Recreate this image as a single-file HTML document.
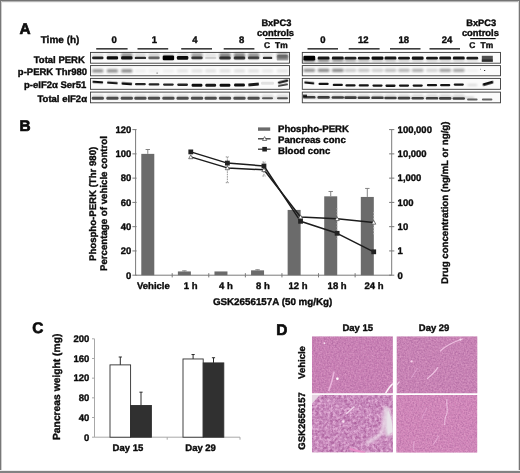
<!DOCTYPE html>
<html><head><meta charset="utf-8"><title>Figure</title>
<style>
html,body{margin:0;padding:0;background:#fff;}
body{width:520px;height:473px;overflow:hidden;}
svg{display:block;}
text{font-family:"Liberation Sans",sans-serif;font-weight:bold;fill:#0c0c0c;text-rendering:geometricPrecision;stroke:#0c0c0c;stroke-width:0.38px;stroke-linejoin:round;}
.t{font-size:9.5px;}
.pl{font-size:15.4px;stroke-width:0.7px;}
</style></head><body>
<svg width="520" height="473" viewBox="0 0 520 473">
<defs>
<filter id="b1" x="-20%" y="-100%" width="140%" height="300%"><feGaussianBlur stdDeviation="0.7 0.5"/></filter>
<filter id="b2" x="-20%" y="-100%" width="140%" height="300%"><feGaussianBlur stdDeviation="1.1 0.8"/></filter>
<filter id="soft" x="-5%" y="-5%" width="110%" height="110%"><feGaussianBlur stdDeviation="0.35"/></filter>
<filter id="nf" x="0" y="0" width="100%" height="100%" color-interpolation-filters="sRGB"><feTurbulence type="fractalNoise" baseFrequency="0.62" numOctaves="2" seed="3" result="n"/><feColorMatrix in="n" type="matrix" values="0 0 0 0 0.60  0 0 0 0 0.34  0 0 0 0 0.57  0.9 0 0 0 -0.27" result="d"/><feColorMatrix in="n" type="matrix" values="0 0 0 0 0.93  0 0 0 0 0.70  0 0 0 0 0.84  0 0.9 0 0 -0.29" result="l"/><feMerge result="m0"><feMergeNode in="d"/><feMergeNode in="l"/></feMerge><feGaussianBlur in="m0" stdDeviation="0.45" result="m"/><feComposite operator="in" in="m" in2="SourceGraphic"/></filter>
<filter id="nm" x="0" y="0" width="100%" height="100%" color-interpolation-filters="sRGB"><feTurbulence type="fractalNoise" baseFrequency="0.36" numOctaves="3" seed="8" result="n"/><feColorMatrix in="n" type="matrix" values="0 0 0 0 0.64  0 0 0 0 0.33  0 0 0 0 0.58  1.8 0 0 0 -0.64" result="d"/><feColorMatrix in="n" type="matrix" values="0 0 0 0 0.95  0 0 0 0 0.78  0 0 0 0 0.91  0 1.8 0 0 -0.70" result="l"/><feMerge result="m0"><feMergeNode in="d"/><feMergeNode in="l"/></feMerge><feGaussianBlur in="m0" stdDeviation="0.55" result="m"/><feComposite operator="in" in="m" in2="SourceGraphic"/></filter>
<filter id="sb" x="-30%" y="-30%" width="160%" height="160%"><feGaussianBlur stdDeviation="0.6"/></filter>
<filter id="sb2" x="-30%" y="-30%" width="160%" height="160%"><feGaussianBlur stdDeviation="1.4"/></filter>
</defs>
<rect x="0" y="0" width="520" height="473" fill="#fff"/>

<g id="frame">
<rect x="0" y="0" width="520" height="1" fill="#747474"/><rect x="0" y="1" width="520" height="1" fill="#b4b4b4"/><rect x="0" y="2" width="520" height="1" fill="#f1f1f1"/>
<rect x="0" y="0" width="1" height="473" fill="#787878"/><rect x="1" y="1" width="1" height="473" fill="#cfcfcf"/>
<rect x="519" y="0" width="1" height="473" fill="#767676"/><rect x="518" y="1" width="1" height="473" fill="#dadada"/>
<rect x="0" y="471" width="520" height="2" fill="#828282"/><rect x="0" y="470" width="520" height="1" fill="#ececec"/>
</g>
<g id="panelA">
<text class="pl" x="19.5" y="34.2" text-anchor="start" >A</text>
<text class="t" x="40.7" y="43" text-anchor="start" style="font-size:10px">Time (h)</text>
<text class="t" x="84.8" y="62.6" text-anchor="end" >Total PERK</text>
<text class="t" x="87" y="74.6" text-anchor="end" >p-PERK Thr980</text>
<text class="t" x="86.4" y="88" text-anchor="end" >p-eIF2α Ser51</text>
<text class="t" x="87" y="102" text-anchor="end" >Total eIF2α</text>
<text class="t" x="114.2" y="43.1" text-anchor="middle" >0</text>
<rect x="96.2" y="48.2" width="31.4" height="1.3" fill="#111"/>
<text class="t" x="154.5" y="43.1" text-anchor="middle" >1</text>
<rect x="137.5" y="48.2" width="30.7" height="1.3" fill="#111"/>
<text class="t" x="195" y="43.1" text-anchor="middle" >4</text>
<rect x="181.2" y="48.2" width="30.8" height="1.3" fill="#111"/>
<text class="t" x="241.6" y="43.1" text-anchor="middle" >8</text>
<rect x="223.7" y="48.2" width="30.7" height="1.3" fill="#111"/>
<text class="t" x="323" y="43.1" text-anchor="middle" >0</text>
<rect x="307.5" y="48.2" width="30.5" height="1.3" fill="#111"/>
<text class="t" x="363.2" y="43.1" text-anchor="middle" >12</text>
<rect x="348.7" y="48.2" width="30.9" height="1.3" fill="#111"/>
<text class="t" x="403.7" y="43.1" text-anchor="middle" >18</text>
<rect x="390" y="48.2" width="30.5" height="1.3" fill="#111"/>
<text class="t" x="447" y="43.1" text-anchor="middle" >24</text>
<rect x="429.5" y="48.2" width="30.5" height="1.3" fill="#111"/>
<text class="t" x="276.40000000000003" y="26.2" text-anchor="middle" style="font-size:9.3px">BxPC3</text>
<text class="t" x="275.6" y="35.7" text-anchor="middle" style="font-size:9.4px">controls</text>
<rect x="265.2" y="38" width="25.4" height="1.2" fill="#111"/>
<text class="t" x="267.1" y="47.8" text-anchor="middle" style="font-size:8.4px">C</text>
<text class="t" x="281.4" y="47.8" text-anchor="middle" style="font-size:8.4px">Tm</text>
<text class="t" x="481.2" y="26.2" text-anchor="middle" style="font-size:9.3px">BxPC3</text>
<text class="t" x="480.4" y="35.7" text-anchor="middle" style="font-size:9.4px">controls</text>
<rect x="470.2" y="38" width="25.4" height="1.2" fill="#111"/>
<text class="t" x="472.2" y="47.8" text-anchor="middle" style="font-size:8.4px">C</text>
<text class="t" x="486.8" y="47.8" text-anchor="middle" style="font-size:8.4px">Tm</text>
<rect x="90.5" y="52.4" width="199.0" height="10.8" fill="#fbfbfb" stroke="#3a3a3a" stroke-width="0.9"/>
<rect x="90.5" y="65.6" width="199.0" height="10.2" fill="#fbfbfb" stroke="#3a3a3a" stroke-width="0.9"/>
<rect x="90.5" y="78.4" width="199.0" height="10.9" fill="#fbfbfb" stroke="#3a3a3a" stroke-width="0.9"/>
<rect x="90.5" y="92.1" width="199.0" height="10.7" fill="#fbfbfb" stroke="#3a3a3a" stroke-width="0.9"/>
<rect x="302.3" y="52.4" width="198.2" height="10.8" fill="#fbfbfb" stroke="#3a3a3a" stroke-width="0.9"/>
<rect x="302.3" y="65.6" width="198.2" height="10.2" fill="#fbfbfb" stroke="#3a3a3a" stroke-width="0.9"/>
<rect x="302.3" y="78.4" width="198.2" height="10.9" fill="#fbfbfb" stroke="#3a3a3a" stroke-width="0.9"/>
<rect x="302.3" y="92.1" width="198.2" height="10.7" fill="#fbfbfb" stroke="#3a3a3a" stroke-width="0.9"/>
<g id="bandsL">
<rect x="92.2" y="53.0" width="11.2" height="6.0" rx="1.2" fill="#000" fill-opacity="0.08" filter="url(#b2)"/>
<rect x="92.1" y="56.6" width="11.4" height="2.6" rx="1.2" fill="#000" fill-opacity="0.85" filter="url(#b1)"/>
<rect x="106.8" y="53.0" width="11.2" height="6.0" rx="1.2" fill="#000" fill-opacity="0.1" filter="url(#b2)"/>
<rect x="106.7" y="56.2" width="11.4" height="3.3" rx="1.2" fill="#000" fill-opacity="0.95" filter="url(#b1)"/>
<rect x="121.2" y="53.0" width="11.2" height="6.0" rx="1.2" fill="#000" fill-opacity="0.38" filter="url(#b2)"/>
<rect x="121.1" y="56.3" width="11.4" height="3.2" rx="1.2" fill="#000" fill-opacity="0.9" filter="url(#b1)"/>
<rect x="134.8" y="53.0" width="11.2" height="6.0" rx="1.2" fill="#000" fill-opacity="0.12" filter="url(#b2)"/>
<rect x="134.7" y="56.7" width="11.4" height="2.4" rx="1.2" fill="#000" fill-opacity="0.8" filter="url(#b1)"/>
<rect x="148.4" y="53.0" width="11.2" height="6.0" rx="1.2" fill="#000" fill-opacity="0.15" filter="url(#b2)"/>
<rect x="148.3" y="56.6" width="11.4" height="2.6" rx="1.2" fill="#000" fill-opacity="0.55" filter="url(#b1)"/>
<rect x="162.8" y="54.0" width="11.2" height="6.0" rx="1.2" fill="#000" fill-opacity="0.2" filter="url(#b2)"/>
<rect x="162.7" y="55.5" width="11.4" height="4.8" rx="1.2" fill="#000" fill-opacity="1" filter="url(#b1)"/>
<rect x="177.0" y="53.0" width="11.2" height="6.0" rx="1.2" fill="#000" fill-opacity="0.12" filter="url(#b2)"/>
<rect x="176.9" y="56.0" width="11.4" height="3.8" rx="1.2" fill="#000" fill-opacity="0.95" filter="url(#b1)"/>
<rect x="191.4" y="53.0" width="11.2" height="6.0" rx="1.2" fill="#000" fill-opacity="0.34" filter="url(#b2)"/>
<rect x="191.3" y="56.5" width="11.4" height="2.8" rx="1.2" fill="#000" fill-opacity="0.7" filter="url(#b1)"/>
<rect x="205.1" y="53.0" width="11.2" height="6.0" rx="1.2" fill="#000" fill-opacity="0.08" filter="url(#b2)"/>
<rect x="205.0" y="56.9" width="11.4" height="2.0" rx="1.0" fill="#000" fill-opacity="0.13" filter="url(#b1)"/>
<rect x="219.4" y="53.0" width="11.2" height="6.0" rx="1.2" fill="#000" fill-opacity="0.46" filter="url(#b2)"/>
<rect x="219.3" y="56.4" width="11.4" height="3.0" rx="1.2" fill="#000" fill-opacity="0.7" filter="url(#b1)"/>
<rect x="233.9" y="53.0" width="11.2" height="6.0" rx="1.2" fill="#000" fill-opacity="0.46" filter="url(#b2)"/>
<rect x="233.8" y="56.4" width="11.4" height="3.0" rx="1.2" fill="#000" fill-opacity="0.7" filter="url(#b1)"/>
<rect x="248.0" y="53.0" width="11.2" height="6.0" rx="1.2" fill="#000" fill-opacity="0.4" filter="url(#b2)"/>
<rect x="247.9" y="56.5" width="11.4" height="2.8" rx="1.2" fill="#000" fill-opacity="0.62" filter="url(#b1)"/>
<rect x="261.9" y="53.0" width="11.2" height="6.0" rx="1.2" fill="#000" fill-opacity="0.08" filter="url(#b2)"/>
<rect x="262.8" y="56.7" width="9.5" height="2.4" rx="1.2" fill="#000" fill-opacity="0.8" filter="url(#b1)"/>
<rect x="276.9" y="53.0" width="11.2" height="6.0" rx="1.2" fill="#000" fill-opacity="0.4" filter="url(#b2)"/>
<rect x="276.8" y="55.1" width="11.4" height="5.5" rx="1.2" fill="#000" fill-opacity="0.3" filter="url(#b1)"/>
<rect x="92.3" y="69.2" width="11.0" height="3.4" rx="1.2" fill="#000" fill-opacity="0.44" filter="url(#b2)"/>
<rect x="106.9" y="69.2" width="11.0" height="3.4" rx="1.2" fill="#000" fill-opacity="0.44" filter="url(#b2)"/>
<rect x="121.3" y="69.2" width="11.0" height="3.4" rx="1.2" fill="#000" fill-opacity="0.46" filter="url(#b2)"/>
<rect x="134.9" y="69.2" width="11.0" height="3.4" rx="1.2" fill="#000" fill-opacity="0.05" filter="url(#b2)"/>
<rect x="148.5" y="69.2" width="11.0" height="3.4" rx="1.2" fill="#000" fill-opacity="0.05" filter="url(#b2)"/>
<rect x="162.9" y="69.2" width="11.0" height="3.4" rx="1.2" fill="#000" fill-opacity="0.05" filter="url(#b2)"/>
<rect x="177.1" y="69.2" width="11.0" height="3.4" rx="1.2" fill="#000" fill-opacity="0.09" filter="url(#b2)"/>
<rect x="191.5" y="69.2" width="11.0" height="3.4" rx="1.2" fill="#000" fill-opacity="0.1" filter="url(#b2)"/>
<rect x="205.2" y="69.2" width="11.0" height="3.4" rx="1.2" fill="#000" fill-opacity="0.1" filter="url(#b2)"/>
<rect x="219.5" y="69.2" width="11.0" height="3.4" rx="1.2" fill="#000" fill-opacity="0.11" filter="url(#b2)"/>
<rect x="234.0" y="69.2" width="11.0" height="3.4" rx="1.2" fill="#000" fill-opacity="0.11" filter="url(#b2)"/>
<rect x="248.1" y="69.2" width="11.0" height="3.4" rx="1.2" fill="#000" fill-opacity="0.1" filter="url(#b2)"/>
<rect x="262.0" y="69.2" width="11.0" height="3.4" rx="1.2" fill="#000" fill-opacity="0.08" filter="url(#b2)"/>
<rect x="277.0" y="69.2" width="11.0" height="3.4" rx="1.2" fill="#000" fill-opacity="0.09" filter="url(#b2)"/>
<rect x="156.6" y="72.6" width="1" height="1" fill="#444"/>
<rect x="92.4" y="81.0" width="10.8" height="2.3" rx="1.1" fill="#000" fill-opacity="0.95" filter="url(#b1)" transform="rotate(4 97.8 82.2)"/>
<rect x="107.0" y="81.8" width="10.8" height="2.3" rx="1.1" fill="#000" fill-opacity="0.9" filter="url(#b1)" transform="rotate(4 112.4 83)"/>
<rect x="121.4" y="82.6" width="10.8" height="2.3" rx="1.1" fill="#000" fill-opacity="0.95" filter="url(#b1)" transform="rotate(4 126.8 83.8)"/>
<rect x="135.0" y="83.0" width="10.8" height="2.3" rx="1.1" fill="#000" fill-opacity="0.85" filter="url(#b1)"/>
<rect x="148.6" y="83.2" width="10.8" height="2.3" rx="1.1" fill="#000" fill-opacity="0.85" filter="url(#b1)"/>
<rect x="163.0" y="83.4" width="10.8" height="2.3" rx="1.1" fill="#000" fill-opacity="0.85" filter="url(#b1)"/>
<rect x="177.2" y="83.6" width="10.8" height="2.3" rx="1.1" fill="#000" fill-opacity="0.85" filter="url(#b1)"/>
<rect x="191.6" y="83.8" width="10.8" height="3.0" rx="1.2" fill="#000" fill-opacity="0.95" filter="url(#b1)"/>
<rect x="205.3" y="83.7" width="10.8" height="3.0" rx="1.2" fill="#000" fill-opacity="0.9" filter="url(#b1)"/>
<rect x="219.6" y="83.7" width="10.8" height="3.0" rx="1.2" fill="#000" fill-opacity="0.95" filter="url(#b1)"/>
<rect x="234.1" y="83.5" width="10.8" height="3.0" rx="1.2" fill="#000" fill-opacity="0.95" filter="url(#b1)"/>
<rect x="248.2" y="82.9" width="10.8" height="3.0" rx="1.2" fill="#000" fill-opacity="0.9" filter="url(#b1)" transform="rotate(-5 253.6 84.4)"/>
<rect x="261.0" y="81.7" width="13.0" height="3.0" rx="1.2" fill="#000" fill-opacity="0.1" filter="url(#b1)"/>
<rect x="277.8" y="80.4" width="10.5" height="2.4" rx="1.2" fill="#000" fill-opacity="0.95" filter="url(#b1)" transform="rotate(-14 283 81.6)"/>
<rect x="278.0" y="84.3" width="10.0" height="1.8" rx="0.9" fill="#000" fill-opacity="0.8" filter="url(#b1)" transform="rotate(-10 283 85.2)"/>
<rect x="91.7" y="96.7" width="12.2" height="3.0" rx="1.2" fill="#000" fill-opacity="0.66" filter="url(#b1)"/>
<rect x="92.0" y="94.6" width="11.5" height="3.6" rx="1.2" fill="#000" fill-opacity="0.1" filter="url(#b2)"/>
<rect x="106.3" y="96.7" width="12.2" height="3.0" rx="1.2" fill="#000" fill-opacity="0.66" filter="url(#b1)"/>
<rect x="106.7" y="94.6" width="11.5" height="3.6" rx="1.2" fill="#000" fill-opacity="0.1" filter="url(#b2)"/>
<rect x="120.7" y="96.7" width="12.2" height="3.0" rx="1.2" fill="#000" fill-opacity="0.66" filter="url(#b1)"/>
<rect x="121.0" y="94.6" width="11.5" height="3.6" rx="1.2" fill="#000" fill-opacity="0.1" filter="url(#b2)"/>
<rect x="134.3" y="96.7" width="12.2" height="3.0" rx="1.2" fill="#000" fill-opacity="0.66" filter="url(#b1)"/>
<rect x="134.7" y="94.6" width="11.5" height="3.6" rx="1.2" fill="#000" fill-opacity="0.1" filter="url(#b2)"/>
<rect x="147.9" y="96.7" width="12.2" height="3.0" rx="1.2" fill="#000" fill-opacity="0.66" filter="url(#b1)"/>
<rect x="148.2" y="94.6" width="11.5" height="3.6" rx="1.2" fill="#000" fill-opacity="0.1" filter="url(#b2)"/>
<rect x="162.3" y="96.7" width="12.2" height="3.0" rx="1.2" fill="#000" fill-opacity="0.66" filter="url(#b1)"/>
<rect x="162.7" y="94.6" width="11.5" height="3.6" rx="1.2" fill="#000" fill-opacity="0.1" filter="url(#b2)"/>
<rect x="176.5" y="96.7" width="12.2" height="3.0" rx="1.2" fill="#000" fill-opacity="0.66" filter="url(#b1)"/>
<rect x="176.8" y="94.6" width="11.5" height="3.6" rx="1.2" fill="#000" fill-opacity="0.1" filter="url(#b2)"/>
<rect x="190.9" y="96.7" width="12.2" height="3.0" rx="1.2" fill="#000" fill-opacity="0.66" filter="url(#b1)"/>
<rect x="191.2" y="94.6" width="11.5" height="3.6" rx="1.2" fill="#000" fill-opacity="0.1" filter="url(#b2)"/>
<rect x="204.6" y="96.7" width="12.2" height="3.0" rx="1.2" fill="#000" fill-opacity="0.66" filter="url(#b1)"/>
<rect x="204.9" y="94.6" width="11.5" height="3.6" rx="1.2" fill="#000" fill-opacity="0.1" filter="url(#b2)"/>
<rect x="218.9" y="96.7" width="12.2" height="3.0" rx="1.2" fill="#000" fill-opacity="0.66" filter="url(#b1)"/>
<rect x="219.2" y="94.6" width="11.5" height="3.6" rx="1.2" fill="#000" fill-opacity="0.1" filter="url(#b2)"/>
<rect x="233.4" y="96.7" width="12.2" height="3.0" rx="1.2" fill="#000" fill-opacity="0.66" filter="url(#b1)"/>
<rect x="233.8" y="94.6" width="11.5" height="3.6" rx="1.2" fill="#000" fill-opacity="0.1" filter="url(#b2)"/>
<rect x="247.5" y="96.7" width="12.2" height="3.0" rx="1.2" fill="#000" fill-opacity="0.66" filter="url(#b1)"/>
<rect x="247.8" y="94.6" width="11.5" height="3.6" rx="1.2" fill="#000" fill-opacity="0.1" filter="url(#b2)"/>
<rect x="262.0" y="97.2" width="11.0" height="2.0" rx="1.0" fill="#000" fill-opacity="0.62" filter="url(#b1)"/>
<rect x="261.8" y="94.6" width="11.5" height="3.6" rx="1.2" fill="#000" fill-opacity="0.1" filter="url(#b2)"/>
<rect x="277.0" y="97.2" width="11.0" height="2.0" rx="1.0" fill="#000" fill-opacity="0.62" filter="url(#b1)"/>
<rect x="276.8" y="94.6" width="11.5" height="3.6" rx="1.2" fill="#000" fill-opacity="0.1" filter="url(#b2)"/>
<rect x="92" y="97.2" width="196" height="2" fill="#000" fill-opacity=".12" filter="url(#b2)"/>
</g>
<g id="bandsR">
<rect x="303.5" y="58.7" width="11.6" height="3.0" rx="1.2" fill="#000" fill-opacity="0.5700000000000001" filter="url(#b2)"/>
<rect x="303.4" y="55.8" width="11.8" height="4.6" rx="1.2" fill="#000" fill-opacity="1" filter="url(#b1)"/>
<rect x="317.8" y="58.7" width="11.6" height="3.0" rx="1.2" fill="#000" fill-opacity="0.5" filter="url(#b2)"/>
<rect x="317.7" y="56.6" width="11.8" height="3.0" rx="1.2" fill="#000" fill-opacity="0.9" filter="url(#b1)"/>
<rect x="332.0" y="58.7" width="11.6" height="3.0" rx="1.2" fill="#000" fill-opacity="0.44" filter="url(#b2)"/>
<rect x="331.9" y="56.6" width="11.8" height="3.0" rx="1.2" fill="#000" fill-opacity="0.9" filter="url(#b1)"/>
<rect x="344.7" y="58.7" width="11.6" height="3.0" rx="1.2" fill="#000" fill-opacity="0.33999999999999997" filter="url(#b2)"/>
<rect x="344.6" y="56.8" width="11.8" height="2.6" rx="1.2" fill="#000" fill-opacity="0.85" filter="url(#b1)"/>
<rect x="358.0" y="58.7" width="11.6" height="3.0" rx="1.2" fill="#000" fill-opacity="0.28" filter="url(#b2)"/>
<rect x="357.9" y="56.7" width="11.8" height="2.8" rx="1.2" fill="#000" fill-opacity="0.9" filter="url(#b1)"/>
<rect x="371.7" y="58.7" width="11.6" height="3.0" rx="1.2" fill="#000" fill-opacity="0.24" filter="url(#b2)"/>
<rect x="371.6" y="56.4" width="11.8" height="3.4" rx="1.2" fill="#000" fill-opacity="0.95" filter="url(#b1)"/>
<rect x="384.7" y="58.7" width="11.6" height="3.0" rx="1.2" fill="#000" fill-opacity="0.24" filter="url(#b2)"/>
<rect x="384.6" y="56.6" width="11.8" height="3.0" rx="1.2" fill="#000" fill-opacity="0.9" filter="url(#b1)"/>
<rect x="398.2" y="58.7" width="11.6" height="3.0" rx="1.2" fill="#000" fill-opacity="0.18" filter="url(#b2)"/>
<rect x="398.1" y="56.7" width="11.8" height="2.8" rx="1.2" fill="#000" fill-opacity="0.9" filter="url(#b1)"/>
<rect x="411.9" y="58.7" width="11.6" height="3.0" rx="1.2" fill="#000" fill-opacity="0.18" filter="url(#b2)"/>
<rect x="411.8" y="56.5" width="11.8" height="3.2" rx="1.2" fill="#000" fill-opacity="0.92" filter="url(#b1)"/>
<rect x="426.2" y="58.7" width="11.6" height="3.0" rx="1.2" fill="#000" fill-opacity="0.16999999999999998" filter="url(#b2)"/>
<rect x="426.1" y="56.7" width="11.8" height="2.8" rx="1.2" fill="#000" fill-opacity="0.9" filter="url(#b1)"/>
<rect x="439.4" y="58.7" width="11.6" height="3.0" rx="1.2" fill="#000" fill-opacity="0.16999999999999998" filter="url(#b2)"/>
<rect x="439.3" y="56.6" width="11.8" height="3.0" rx="1.2" fill="#000" fill-opacity="0.9" filter="url(#b1)"/>
<rect x="453.0" y="58.7" width="11.6" height="3.0" rx="1.2" fill="#000" fill-opacity="0.16999999999999998" filter="url(#b2)"/>
<rect x="452.9" y="56.6" width="11.8" height="3.0" rx="1.2" fill="#000" fill-opacity="0.92" filter="url(#b1)"/>
<rect x="466.5" y="58.7" width="11.6" height="3.0" rx="1.2" fill="#000" fill-opacity="0.12" filter="url(#b2)"/>
<rect x="466.4" y="56.8" width="11.8" height="2.6" rx="1.2" fill="#000" fill-opacity="0.88" filter="url(#b1)"/>
<rect x="481.8" y="55.8" width="11" height="6" fill="#000" fill-opacity=".68" filter="url(#b1)"/>
<rect x="481.8" y="59.4" width="11" height="2.4" fill="#000" fill-opacity=".45" filter="url(#b1)"/>
<rect x="303.5" y="68.8" width="11.6" height="3.2" rx="1.2" fill="#000" fill-opacity="0.42" filter="url(#b2)"/>
<rect x="317.8" y="68.8" width="11.6" height="3.2" rx="1.2" fill="#000" fill-opacity="0.46" filter="url(#b2)"/>
<rect x="332.0" y="68.8" width="11.6" height="3.2" rx="1.2" fill="#000" fill-opacity="0.46" filter="url(#b2)"/>
<rect x="344.7" y="68.8" width="11.6" height="3.2" rx="1.2" fill="#000" fill-opacity="0.2" filter="url(#b2)"/>
<rect x="358.0" y="68.8" width="11.6" height="3.2" rx="1.2" fill="#000" fill-opacity="0.22" filter="url(#b2)"/>
<rect x="371.7" y="68.8" width="11.6" height="3.2" rx="1.2" fill="#000" fill-opacity="0.18" filter="url(#b2)"/>
<rect x="384.7" y="68.8" width="11.6" height="3.2" rx="1.2" fill="#000" fill-opacity="0.24" filter="url(#b2)"/>
<rect x="398.2" y="68.8" width="11.6" height="3.2" rx="1.2" fill="#000" fill-opacity="0.28" filter="url(#b2)"/>
<rect x="411.9" y="68.8" width="11.6" height="3.2" rx="1.2" fill="#000" fill-opacity="0.3" filter="url(#b2)"/>
<rect x="426.2" y="68.8" width="11.6" height="3.2" rx="1.2" fill="#000" fill-opacity="0.16" filter="url(#b2)"/>
<rect x="439.4" y="68.8" width="11.6" height="3.2" rx="1.2" fill="#000" fill-opacity="0.36" filter="url(#b2)"/>
<rect x="453.0" y="68.8" width="11.6" height="3.2" rx="1.2" fill="#000" fill-opacity="0.34" filter="url(#b2)"/>
<rect x="466.5" y="68.8" width="11.6" height="3.2" rx="1.2" fill="#000" fill-opacity="0.04" filter="url(#b2)"/>
<rect x="481.4" y="68.8" width="11.6" height="3.2" rx="1.2" fill="#000" fill-opacity="0" filter="url(#b2)"/>
<rect x="484" y="70" width="1.2" height="1" fill="#333"/><rect x="480" y="68.8" width="1" height="0.8" fill="#777"/>
<rect x="304.2" y="81.8" width="10.2" height="2.3" rx="1.1" fill="#000" fill-opacity="0.92" filter="url(#b1)" transform="rotate(6 309.3 83)"/>
<rect x="318.5" y="82.8" width="10.2" height="2.3" rx="1.1" fill="#000" fill-opacity="0.92" filter="url(#b1)"/>
<rect x="332.7" y="83.8" width="10.2" height="2.3" rx="1.1" fill="#000" fill-opacity="0.92" filter="url(#b1)"/>
<rect x="345.4" y="84.2" width="10.2" height="2.3" rx="1.1" fill="#000" fill-opacity="0.92" filter="url(#b1)"/>
<rect x="358.7" y="84.3" width="10.2" height="2.3" rx="1.1" fill="#000" fill-opacity="0.92" filter="url(#b1)"/>
<rect x="372.4" y="84.4" width="10.2" height="2.3" rx="1.1" fill="#000" fill-opacity="0.92" filter="url(#b1)"/>
<rect x="385.4" y="84.6" width="10.2" height="2.3" rx="1.1" fill="#000" fill-opacity="0.92" filter="url(#b1)"/>
<rect x="398.9" y="84.4" width="10.2" height="2.3" rx="1.1" fill="#000" fill-opacity="0.92" filter="url(#b1)"/>
<rect x="412.6" y="84.4" width="10.2" height="2.3" rx="1.1" fill="#000" fill-opacity="0.92" filter="url(#b1)"/>
<rect x="426.9" y="84.0" width="10.2" height="2.3" rx="1.1" fill="#000" fill-opacity="0.92" filter="url(#b1)"/>
<rect x="440.1" y="84.0" width="10.2" height="2.3" rx="1.1" fill="#000" fill-opacity="0.92" filter="url(#b1)"/>
<rect x="453.7" y="83.4" width="10.2" height="2.3" rx="1.1" fill="#000" fill-opacity="0.92" filter="url(#b1)"/>
<rect x="467.3" y="84.1" width="10.0" height="1.8" rx="0.9" fill="#000" fill-opacity="0.14" filter="url(#b2)"/>
<rect x="482.5" y="81.9" width="11.0" height="2.8" rx="1.2" fill="#000" fill-opacity="0.95" filter="url(#b1)" transform="rotate(-16 488 83.3)"/>
<rect x="303.1" y="96.0" width="12.4" height="2.6" rx="1.2" fill="#000" fill-opacity="0.72" filter="url(#b1)"/>
<rect x="303.8" y="94.1" width="11.0" height="3.0" rx="1.2" fill="#000" fill-opacity="0.1" filter="url(#b2)"/>
<rect x="317.4" y="96.1" width="12.4" height="2.6" rx="1.2" fill="#000" fill-opacity="0.72" filter="url(#b1)"/>
<rect x="318.1" y="94.1" width="11.0" height="3.0" rx="1.2" fill="#000" fill-opacity="0.1" filter="url(#b2)"/>
<rect x="331.6" y="96.2" width="12.4" height="2.6" rx="1.2" fill="#000" fill-opacity="0.72" filter="url(#b1)"/>
<rect x="332.3" y="94.1" width="11.0" height="3.0" rx="1.2" fill="#000" fill-opacity="0.1" filter="url(#b2)"/>
<rect x="344.3" y="96.3" width="12.4" height="2.6" rx="1.2" fill="#000" fill-opacity="0.72" filter="url(#b1)"/>
<rect x="345.0" y="94.1" width="11.0" height="3.0" rx="1.2" fill="#000" fill-opacity="0.1" filter="url(#b2)"/>
<rect x="357.6" y="96.4" width="12.4" height="2.6" rx="1.2" fill="#000" fill-opacity="0.72" filter="url(#b1)"/>
<rect x="358.3" y="94.1" width="11.0" height="3.0" rx="1.2" fill="#000" fill-opacity="0.1" filter="url(#b2)"/>
<rect x="371.3" y="96.5" width="12.4" height="2.6" rx="1.2" fill="#000" fill-opacity="0.72" filter="url(#b1)"/>
<rect x="372.0" y="94.1" width="11.0" height="3.0" rx="1.2" fill="#000" fill-opacity="0.1" filter="url(#b2)"/>
<rect x="384.3" y="96.7" width="12.4" height="2.6" rx="1.2" fill="#000" fill-opacity="0.72" filter="url(#b1)"/>
<rect x="385.0" y="94.1" width="11.0" height="3.0" rx="1.2" fill="#000" fill-opacity="0.1" filter="url(#b2)"/>
<rect x="397.8" y="96.8" width="12.4" height="2.6" rx="1.2" fill="#000" fill-opacity="0.72" filter="url(#b1)"/>
<rect x="398.5" y="94.1" width="11.0" height="3.0" rx="1.2" fill="#000" fill-opacity="0.1" filter="url(#b2)"/>
<rect x="411.5" y="96.9" width="12.4" height="2.6" rx="1.2" fill="#000" fill-opacity="0.72" filter="url(#b1)"/>
<rect x="412.2" y="94.1" width="11.0" height="3.0" rx="1.2" fill="#000" fill-opacity="0.1" filter="url(#b2)"/>
<rect x="425.8" y="97.0" width="12.4" height="2.6" rx="1.2" fill="#000" fill-opacity="0.72" filter="url(#b1)"/>
<rect x="426.5" y="94.1" width="11.0" height="3.0" rx="1.2" fill="#000" fill-opacity="0.1" filter="url(#b2)"/>
<rect x="439.0" y="97.1" width="12.4" height="2.6" rx="1.2" fill="#000" fill-opacity="0.72" filter="url(#b1)"/>
<rect x="439.7" y="94.1" width="11.0" height="3.0" rx="1.2" fill="#000" fill-opacity="0.1" filter="url(#b2)"/>
<rect x="452.6" y="97.2" width="12.4" height="2.6" rx="1.2" fill="#000" fill-opacity="0.72" filter="url(#b1)"/>
<rect x="453.3" y="94.1" width="11.0" height="3.0" rx="1.2" fill="#000" fill-opacity="0.1" filter="url(#b2)"/>
<rect x="467.1" y="98.6" width="10.5" height="1.8" rx="0.9" fill="#000" fill-opacity="0.6" filter="url(#b1)"/>
<rect x="481.9" y="98.6" width="10.5" height="1.8" rx="0.9" fill="#000" fill-opacity="0.6" filter="url(#b1)"/>
<rect x="303" y="94.6" width="4" height="2.6" fill="#000" fill-opacity=".8" filter="url(#b1)"/>
<rect x="304" y="96.8" width="170" height="1.8" fill="#000" fill-opacity=".2" filter="url(#b2)"/>
</g>
</g>
<g id="panelB">
<text class="pl" x="19.5" y="131.3" text-anchor="start" >B</text>
<line x1="135.6" y1="129.6" x2="135.6" y2="275.2" stroke="#7a7a7a" stroke-width="1"/>
<line x1="391.7" y1="129.6" x2="391.7" y2="275.2" stroke="#7a7a7a" stroke-width="1"/>
<line x1="135.6" y1="275.2" x2="391.7" y2="275.2" stroke="#7a7a7a" stroke-width="1"/>
<line x1="132.4" y1="275.20" x2="136.6" y2="275.20" stroke="#7a7a7a" stroke-width="1"/>
<text class="t" x="131.4" y="278.5" text-anchor="end" >0</text>
<line x1="389.09999999999997" y1="275.20" x2="394.3" y2="275.20" stroke="#7a7a7a" stroke-width="1"/>
<line x1="132.4" y1="250.93" x2="136.6" y2="250.93" stroke="#7a7a7a" stroke-width="1"/>
<text class="t" x="131.4" y="254.23" text-anchor="end" >20</text>
<line x1="389.09999999999997" y1="250.93" x2="394.3" y2="250.93" stroke="#7a7a7a" stroke-width="1"/>
<line x1="132.4" y1="226.67" x2="136.6" y2="226.67" stroke="#7a7a7a" stroke-width="1"/>
<text class="t" x="131.4" y="229.97" text-anchor="end" >40</text>
<line x1="389.09999999999997" y1="226.67" x2="394.3" y2="226.67" stroke="#7a7a7a" stroke-width="1"/>
<line x1="132.4" y1="202.40" x2="136.6" y2="202.40" stroke="#7a7a7a" stroke-width="1"/>
<text class="t" x="131.4" y="205.7" text-anchor="end" >60</text>
<line x1="389.09999999999997" y1="202.40" x2="394.3" y2="202.40" stroke="#7a7a7a" stroke-width="1"/>
<line x1="132.4" y1="178.13" x2="136.6" y2="178.13" stroke="#7a7a7a" stroke-width="1"/>
<text class="t" x="131.4" y="181.43" text-anchor="end" >80</text>
<line x1="389.09999999999997" y1="178.13" x2="394.3" y2="178.13" stroke="#7a7a7a" stroke-width="1"/>
<line x1="132.4" y1="153.87" x2="136.6" y2="153.87" stroke="#7a7a7a" stroke-width="1"/>
<text class="t" x="131.4" y="157.17" text-anchor="end" >100</text>
<line x1="389.09999999999997" y1="153.87" x2="394.3" y2="153.87" stroke="#7a7a7a" stroke-width="1"/>
<line x1="132.4" y1="129.60" x2="136.6" y2="129.60" stroke="#7a7a7a" stroke-width="1"/>
<text class="t" x="131.4" y="132.9" text-anchor="end" >120</text>
<line x1="389.09999999999997" y1="129.60" x2="394.3" y2="129.60" stroke="#7a7a7a" stroke-width="1"/>
<text class="t" x="397.6" y="132.9" text-anchor="start" >100,000</text>
<text class="t" x="397.6" y="157.17" text-anchor="start" >10,000</text>
<text class="t" x="397.6" y="181.43" text-anchor="start" >1,000</text>
<text class="t" x="397.6" y="205.7" text-anchor="start" >100</text>
<text class="t" x="397.6" y="229.97" text-anchor="start" >10</text>
<text class="t" x="397.6" y="254.23" text-anchor="start" >1</text>
<text class="t" x="397.6" y="278.5" text-anchor="start" >0</text>
<line x1="172.19" y1="273.2" x2="172.19" y2="277.4" stroke="#7a7a7a" stroke-width="1"/>
<line x1="208.77" y1="273.2" x2="208.77" y2="277.4" stroke="#7a7a7a" stroke-width="1"/>
<line x1="245.36" y1="273.2" x2="245.36" y2="277.4" stroke="#7a7a7a" stroke-width="1"/>
<line x1="281.94" y1="273.2" x2="281.94" y2="277.4" stroke="#7a7a7a" stroke-width="1"/>
<line x1="318.53" y1="273.2" x2="318.53" y2="277.4" stroke="#7a7a7a" stroke-width="1"/>
<line x1="355.11" y1="273.2" x2="355.11" y2="277.4" stroke="#7a7a7a" stroke-width="1"/>
<rect x="141.29" y="153.87" width="13" height="121.33" fill="#6b6b6b"/>
<path d="M147.79 153.87V149.50M145.59 149.50h4.4" stroke="#777" stroke-width="0.9" fill="none"/>
<text class="t" x="153.39" y="289.3" text-anchor="middle" >Vehicle</text>
<rect x="177.88" y="271.44" width="13" height="3.76" fill="#6b6b6b"/>
<path d="M184.38 271.44V270.83M182.18 270.83h4.4" stroke="#777" stroke-width="0.9" fill="none"/>
<text class="t" x="190.68" y="289.3" text-anchor="middle" >1 h</text>
<rect x="214.46" y="271.44" width="13" height="3.76" fill="#6b6b6b"/>
<text class="t" x="225.96" y="289.3" text-anchor="middle" >4 h</text>
<rect x="251.05" y="270.35" width="13" height="4.85" fill="#6b6b6b"/>
<path d="M257.55 270.35V269.74M255.35 269.74h4.4" stroke="#777" stroke-width="0.9" fill="none"/>
<text class="t" x="262.85" y="289.3" text-anchor="middle" >8 h</text>
<rect x="287.64" y="209.92" width="13" height="65.28" fill="#6b6b6b"/>
<text class="t" x="298.04" y="289.3" text-anchor="middle" >12 h</text>
<rect x="324.22" y="196.33" width="13" height="78.87" fill="#6b6b6b"/>
<path d="M330.72 196.33V191.48M328.52 191.48h4.4" stroke="#777" stroke-width="0.9" fill="none"/>
<text class="t" x="337.12" y="289.3" text-anchor="middle" >18 h</text>
<rect x="360.81" y="196.94" width="13" height="78.26" fill="#6b6b6b"/>
<path d="M367.31 196.94V188.45M365.11 188.45h4.4" stroke="#777" stroke-width="0.9" fill="none"/>
<text class="t" x="374.01" y="289.3" text-anchor="middle" >24 h</text>
<text class="t" x="272.6" y="305.4" text-anchor="middle" style="font-size:9.8px">GSK2656157A (50 mg/Kg)</text>
<text class="t" transform="translate(96.3 261) rotate(-90)" text-anchor="start" style="font-size:9.62px">Phospho-PERK (Thr 980)</text>
<text class="t" transform="translate(107.2 271) rotate(-90)" text-anchor="start" style="font-size:9.68px">Percentage of vehicle control</text>
<text class="t" transform="translate(448 283.9) rotate(-90)" text-anchor="start" style="font-size:9.66px">Drug concentration (ng/mL or ng/g)</text>
<path d="M227.36 156.9V182.7M225.76 156.9h3.2M225.76 182.7h3.2M263.95 162V176M262.35 162h3.2M262.35 176h3.2" stroke="#8a8a8a" stroke-width="0.9" stroke-dasharray="1.6 0.8" fill="none"/>
<path d="M337.12 208V240M373.71 212V236" stroke="#c4c4c4" stroke-width="0.8" stroke-dasharray="1.4 1.6" fill="none"/>
<polyline points="190.78,156.9 227.36,167.9 263.95,169.8 300.54,217 337.12,218.8 373.71,222.4" fill="none" stroke="#1c1c1c" stroke-width="1.5" stroke-linejoin="round"/>
<polyline points="190.78,151.9 227.36,163.1 263.95,166 300.54,221.3 337.12,233.3 373.71,251.8" fill="none" stroke="#1c1c1c" stroke-width="1.5" stroke-linejoin="round"/>
<path d="M190.78 154.80L192.88 158.69H188.68Z" fill="#fff" stroke="#444" stroke-width="0.7"/>
<path d="M227.36 165.80L229.46 169.69H225.26Z" fill="#fff" stroke="#444" stroke-width="0.7"/>
<path d="M263.95 167.70L266.05 171.59H261.85Z" fill="#fff" stroke="#444" stroke-width="0.7"/>
<path d="M300.54 214.90L302.64 218.78H298.44Z" fill="#fff" stroke="#444" stroke-width="0.7"/>
<path d="M337.12 216.70L339.22 220.59H335.02Z" fill="#fff" stroke="#444" stroke-width="0.7"/>
<path d="M373.71 220.30L375.81 224.19H371.61Z" fill="#fff" stroke="#444" stroke-width="0.7"/>
<rect x="188.38" y="149.50" width="4.8" height="4.8" fill="#222"/>
<rect x="224.96" y="160.70" width="4.8" height="4.8" fill="#222"/>
<rect x="261.55" y="163.60" width="4.8" height="4.8" fill="#222"/>
<rect x="298.14" y="218.90" width="4.8" height="4.8" fill="#222"/>
<rect x="334.72" y="230.90" width="4.8" height="4.8" fill="#222"/>
<rect x="371.31" y="249.40" width="4.8" height="4.8" fill="#222"/>
<rect x="258" y="127.4" width="12.2" height="3.4" fill="#6b6b6b"/>
<line x1="258" y1="138.8" x2="270.6" y2="138.8" stroke="#333" stroke-width="1.3"/>
<path d="M264.60 136.60L266.70 140.48H262.50Z" fill="#fff" stroke="#444" stroke-width="0.7"/>
<line x1="258" y1="149.2" x2="270.6" y2="149.2" stroke="#333" stroke-width="1.3"/>
<rect x="262.30" y="146.90" width="4.6" height="4.6" fill="#222"/>
<text class="t" x="278" y="132" text-anchor="start" style="font-size:9.6px">Phospho-PERK</text>
<text class="t" x="278" y="143.2" text-anchor="start" style="font-size:9.6px">Pancreas conc</text>
<text class="t" x="278" y="154.2" text-anchor="start" style="font-size:9.6px">Blood conc</text>
</g>
<g id="panelC">
<text class="pl" x="32.3" y="333.0" text-anchor="start" >C</text>
<line x1="94.5" y1="338.8" x2="94.5" y2="437.2" stroke="#a8a8a8" stroke-width="1"/>
<line x1="94.5" y1="437.2" x2="240" y2="437.2" stroke="#a8a8a8" stroke-width="1"/>
<line x1="92.0" y1="437.20" x2="94.5" y2="437.20" stroke="#a8a8a8" stroke-width="1"/>
<text class="t" x="89.3" y="440.5" text-anchor="end" >0</text>
<line x1="92.0" y1="417.52" x2="94.5" y2="417.52" stroke="#a8a8a8" stroke-width="1"/>
<text class="t" x="89.3" y="420.82" text-anchor="end" >40</text>
<line x1="92.0" y1="397.84" x2="94.5" y2="397.84" stroke="#a8a8a8" stroke-width="1"/>
<text class="t" x="89.3" y="401.14" text-anchor="end" >80</text>
<line x1="92.0" y1="378.16" x2="94.5" y2="378.16" stroke="#a8a8a8" stroke-width="1"/>
<text class="t" x="89.3" y="381.46" text-anchor="end" >120</text>
<line x1="92.0" y1="358.48" x2="94.5" y2="358.48" stroke="#a8a8a8" stroke-width="1"/>
<text class="t" x="89.3" y="361.78" text-anchor="end" >160</text>
<line x1="92.0" y1="338.80" x2="94.5" y2="338.80" stroke="#a8a8a8" stroke-width="1"/>
<text class="t" x="89.3" y="342.1" text-anchor="end" >200</text>
<line x1="167.2" y1="437.2" x2="167.2" y2="439.7" stroke="#a8a8a8" stroke-width="1"/>
<line x1="240" y1="437.2" x2="240" y2="439.7" stroke="#a8a8a8" stroke-width="1"/>
<rect x="110" y="364.88" width="20.6" height="72.32" fill="#fff" stroke="#2e2e2e" stroke-width="0.9"/>
<path d="M120.30 364.88V357.00M118.70 357.00h3.2" stroke="#2a2a2a" stroke-width="1" fill="none"/>
<rect x="130.6" y="405.47" width="20.8" height="31.73" fill="#303030" stroke="#2e2e2e" stroke-width="0.9"/>
<path d="M141.00 405.47V392.18M139.40 392.18h3.2" stroke="#2a2a2a" stroke-width="1" fill="none"/>
<rect x="183" y="358.97" width="20.2" height="78.23" fill="#fff" stroke="#2e2e2e" stroke-width="0.9"/>
<path d="M193.10 358.97V354.54M191.50 354.54h3.2" stroke="#2a2a2a" stroke-width="1" fill="none"/>
<rect x="203.2" y="362.91" width="20.6" height="74.29" fill="#303030" stroke="#2e2e2e" stroke-width="0.9"/>
<path d="M213.50 362.91V357.74M211.90 357.74h3.2" stroke="#2a2a2a" stroke-width="1" fill="none"/>
<text class="t" x="127.9" y="450.7" text-anchor="middle" >Day 15</text>
<text class="t" x="200.6" y="450.7" text-anchor="middle" >Day 29</text>
<text class="t" transform="translate(60 440) rotate(-90)" text-anchor="start" style="font-size:10.3px">Pancreas weight (mg)</text>
</g>
<g id="panelD">
<text class="pl" x="276.2" y="334.5" text-anchor="start" >D</text>
<text class="t" x="357.8" y="331.3" text-anchor="middle" >Day 15</text>
<text class="t" x="434.1" y="331.3" text-anchor="middle" >Day 29</text>
<text class="t" transform="translate(304.6 378.9) rotate(-90)" text-anchor="start" >Vehicle</text>
<text class="t" transform="translate(304.5 449.7) rotate(-90)" text-anchor="start" >GSK2656157</text>
<clipPath id="cp0"><rect x="311.9" y="336.3" width="81.0" height="57.1"/></clipPath>
<g clip-path="url(#cp0)">
<rect x="311.9" y="336.3" width="81.0" height="57.1" fill="#c97eb4"/>
<rect x="311.9" y="336.3" width="81.0" height="57.1" fill="#000" filter="url(#nf)"/>
<path d="M334.2 371.5C333 378 331 385 328.6 391" stroke="#eab6dc" stroke-width="1.5" fill="none" filter="url(#sb)"/>
<circle cx="337.4" cy="378.7" r="1.3" fill="#fff" filter="url(#sb)"/><circle cx="324.4" cy="343.2" r="0.9" fill="#f6dff0" filter="url(#sb)"/>
<path d="M385.5 393.6C388 389 390 386 393 383.6" stroke="#fbeef8" stroke-width="1.6" fill="none" filter="url(#sb)"/>
</g>
<clipPath id="cp1"><rect x="396.5" y="336.3" width="81.0" height="57.1"/></clipPath>
<g clip-path="url(#cp1)">
<rect x="396.5" y="336.3" width="81.0" height="57.1" fill="#c881b4"/>
<rect x="396.5" y="336.3" width="81.0" height="57.1" fill="#000" filter="url(#nf)"/>
<path d="M440 351.4C446 345 455 341.5 462.8 338.8" stroke="#edbfe0" stroke-width="1.1" fill="none" filter="url(#sb)"/>
<path d="M437.8 367.3C436 372 431 375 427 379" stroke="#efc4e3" stroke-width="1.2" fill="none" filter="url(#sb)"/>
<path d="M417.8 368.2C415 372 413 375 411.5 378" stroke="#dfa5d2" stroke-width="0.9" fill="none" filter="url(#sb)"/>
<circle cx="411.6" cy="361.4" r="1.1" fill="#f3d3ea" filter="url(#sb)"/><circle cx="460.5" cy="339.6" r="1.1" fill="#f6dcee" filter="url(#sb)"/>
<path d="M396.4 385.5L399.5 381.5" stroke="#f1d0e8" stroke-width="1.2" fill="none" filter="url(#sb)"/>
</g>
<clipPath id="cp2"><rect x="311.9" y="394.8" width="81.0" height="57.8"/></clipPath>
<g clip-path="url(#cp2)">
<rect x="311.9" y="394.8" width="81.0" height="57.8" fill="#c688bb"/>
<rect x="311.9" y="394.8" width="81.0" height="57.8" fill="#000" filter="url(#nm)"/>
<path d="M311.9 394.8H320L311.9 404Z" fill="#e6d3e2" filter="url(#sb)"/>
<path d="M386 407C383.5 418 384.5 428 381 434C376 438.5 370 440 366 444" stroke="#ecd9e9" stroke-width="3.2" fill="none" filter="url(#sb2)"/>
<path d="M386.5 405C390.5 411 393 420 393 433L386.5 437.5C384 431 384.5 416 386.5 405Z" fill="#e6dde6" filter="url(#sb2)"/>
<path d="M388 410C391 416 392.6 424 392.6 432L388 434C387 426 387 418 388 410Z" fill="#e9e4ea" filter="url(#sb)"/>
<path d="M349.5 448.5C354 450.5 360 451.5 365 452.6" stroke="#e78fc8" stroke-width="2.2" fill="none" filter="url(#sb)"/>
<path d="M346 414L354.5 406.5" stroke="#f0d3ea" stroke-width="1.5" fill="none" filter="url(#sb)"/>
<circle cx="343.3" cy="421.5" r="1.2" fill="#f6e2f1" filter="url(#sb)"/>
</g>
<clipPath id="cp3"><rect x="396.2" y="395" width="81.2" height="57.7"/></clipPath>
<g clip-path="url(#cp3)">
<rect x="396.2" y="395" width="81.2" height="57.7" fill="#d386ba"/>
<rect x="396.2" y="395" width="81.2" height="57.7" fill="#000" filter="url(#nf)"/>
<path d="M447 399C446 406 449 411 445.5 417C444.5 420 445 423 444.6 425" stroke="#efc5e4" stroke-width="1.0" fill="none" filter="url(#sb)"/>
<path d="M438.5 436C437 440 434.5 442 433.5 444.5" stroke="#e7b3d9" stroke-width="0.9" fill="none" filter="url(#sb)"/>
<path d="M414 441C413.5 445 413.6 448 413.8 451" stroke="#e4aed6" stroke-width="0.9" fill="none" filter="url(#sb)"/>
<path d="M427 408C425 412 423 415 422 419" stroke="#dfa3d0" stroke-width="0.8" fill="none" filter="url(#sb)"/>
</g>
</g>
</svg></body></html>
